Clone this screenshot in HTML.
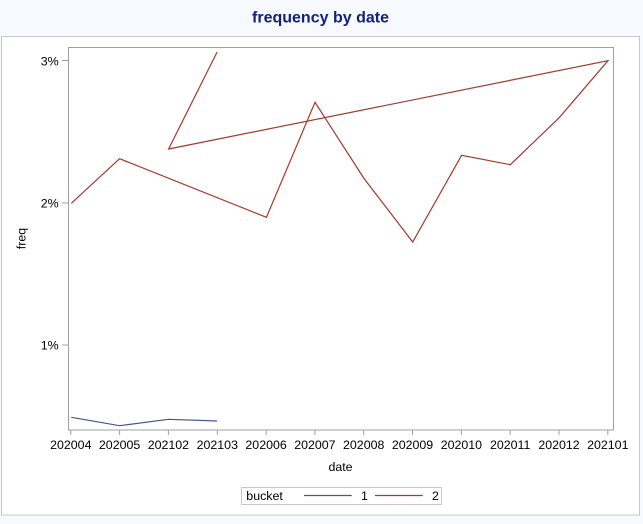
<!DOCTYPE html>
<html>
<head>
<meta charset="utf-8">
<style>
html,body{margin:0;padding:0;background:#f8f9fe;}
svg{display:block;}
text{font-family:"Liberation Sans",Arial,sans-serif;}
</style>
</head>
<body>
<svg width="643" height="524" viewBox="0 0 643 524" xmlns="http://www.w3.org/2000/svg">
<rect x="0" y="0" width="643" height="524" fill="#f8f9fe"/>
<text x="320.5" y="22.3" text-anchor="middle" font-size="16" font-weight="bold" fill="#112277">frequency by date</text>
<rect x="1.5" y="36.5" width="638" height="478.5" fill="#ffffff" stroke="#c8c8c8" stroke-width="1"/>
<rect x="68.5" y="47.5" width="545" height="382.5" fill="#ffffff" stroke="#a0a0a0" stroke-width="1"/>
<!-- y ticks -->
<g stroke="#a0a0a0" stroke-width="1">
<line x1="62" y1="60.5" x2="68" y2="60.5"/>
<line x1="62" y1="203" x2="68" y2="203"/>
<line x1="62" y1="345" x2="68" y2="345"/>
</g>
<g font-size="12.4" fill="#000" text-anchor="end">
<text x="58.7" y="65.3">3%</text>
<text x="58.7" y="207.5">2%</text>
<text x="58.7" y="349.5">1%</text>
</g>
<text x="25.5" y="238.5" font-size="12.4" fill="#000" text-anchor="middle" transform="rotate(-90 25.5 238.5)">freq</text>
<!-- x ticks -->
<g stroke="#a0a0a0" stroke-width="1">
<line x1="70.8" y1="430" x2="70.8" y2="435"/>
<line x1="119.6" y1="430" x2="119.6" y2="435"/>
<line x1="168.4" y1="430" x2="168.4" y2="435"/>
<line x1="217.3" y1="430" x2="217.3" y2="435"/>
<line x1="266.1" y1="430" x2="266.1" y2="435"/>
<line x1="314.9" y1="430" x2="314.9" y2="435"/>
<line x1="363.7" y1="430" x2="363.7" y2="435"/>
<line x1="412.5" y1="430" x2="412.5" y2="435"/>
<line x1="461.4" y1="430" x2="461.4" y2="435"/>
<line x1="510.2" y1="430" x2="510.2" y2="435"/>
<line x1="559" y1="430" x2="559" y2="435"/>
<line x1="607.8" y1="430" x2="607.8" y2="435"/>
</g>
<g font-size="12.4" fill="#000" text-anchor="middle">
<text x="70.8" y="449">202004</text>
<text x="119.6" y="449">202005</text>
<text x="168.4" y="449">202102</text>
<text x="217.3" y="449">202103</text>
<text x="266.1" y="449">202006</text>
<text x="314.9" y="449">202007</text>
<text x="363.7" y="449">202008</text>
<text x="412.5" y="449">202009</text>
<text x="461.4" y="449">202010</text>
<text x="510.2" y="449">202011</text>
<text x="559" y="449">202012</text>
<text x="607.8" y="449">202101</text>
</g>
<text x="340.5" y="471" font-size="12.4" fill="#000" text-anchor="middle">date</text>
<!-- series 2 red -->
<polyline fill="none" stroke="#a23a2e" stroke-width="1.2" points="71.3,203.3 119.6,158.7 266.4,217.3 315,102.3 364,178.5 412.7,242 461.6,155.3 510.3,164.7 559.2,117.7 608,60.7 168.6,149 217.1,52"/>
<!-- series 1 blue -->
<polyline fill="none" stroke="#445694" stroke-width="1.2" points="71.3,417.3 119.6,425.7 168.4,419.3 217.1,421"/>
<!-- legend -->
<rect x="241.5" y="487.5" width="200" height="17" fill="#ffffff" stroke="#c8c8c8" stroke-width="1"/>
<text x="246.3" y="500" font-size="12.4" fill="#000">bucket</text>
<line x1="304" y1="495.5" x2="351.7" y2="495.5" stroke="#445694" stroke-width="1.2"/>
<text x="361" y="500" font-size="12.4" fill="#000">1</text>
<line x1="375" y1="495.5" x2="422.7" y2="495.5" stroke="#a23a2e" stroke-width="1.2"/>
<text x="432" y="500" font-size="12.4" fill="#000">2</text>
</svg>
</body>
</html>
